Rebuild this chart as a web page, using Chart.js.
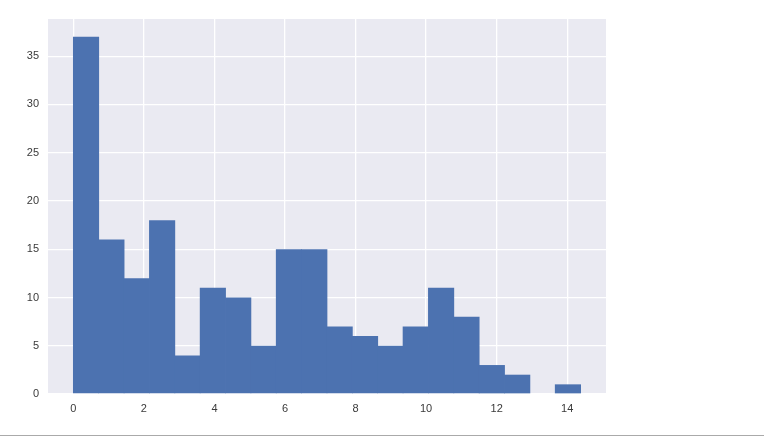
<!DOCTYPE html>
<html>
<head>
<meta charset="utf-8">
<script src="https://cdn.jsdelivr.net/npm/chart.js@4.4.0/dist/chart.umd.min.js"></script>
<style>
  body { margin: 0; background: #fff; }
  #wrap { position: relative; width: 764px; height: 439px; }
  #rule { position: absolute; left: 0; top: 435px; width: 764px; height: 1px; background: #aaaaaa; }
</style>
</head>
<body>
<div id="wrap">
  <canvas id="hist" width="764" height="439"></canvas>
  <div id="rule"></div>
</div>
<script>
// histogram data: bin edges and counts
const binEdges = [0, 0.719, 1.438, 2.157, 2.876, 3.595, 4.314, 5.033, 5.752, 6.471, 7.19,
                  7.909, 8.628, 9.347, 10.066, 10.785, 11.504, 12.223, 12.942, 13.661, 14.38];
const counts = [37, 16, 12, 18, 4, 11, 10, 5, 15, 15, 7, 6, 5, 7, 11, 8, 3, 2, 0, 1];
const xTicks = [0, 2, 4, 6, 8, 10, 12, 14];
const yTicks = [0, 5, 10, 15, 20, 25, 30, 35];

// points at bin centres
const points = counts.map((c, i) => ({ x: (binEdges[i] + binEdges[i + 1]) / 2, y: c }));

// grey plot background
const plotBg = {
    id: 'plotBg',
    beforeDraw(chart) {
        const a = chart.chartArea;
        const ctx = chart.ctx;
        ctx.save();
        ctx.fillStyle = '#EAEAF2';
        ctx.fillRect(a.left, a.top, a.right - a.left, a.bottom - a.top);
        ctx.restore();
    }
};

const tickFont = { family: 'Liberation Sans, Arial, sans-serif', size: 11 };

new Chart(document.getElementById('hist'), {
    type: 'bar',
    data: {
        datasets: [{
            data: points,
            backgroundColor: '#4C72B0',
            borderWidth: 0,
            barPercentage: 1.03,
            categoryPercentage: 1
        }]
    },
    options: {
        responsive: false,
        animation: false,
        layout: { padding: { left: 0, right: 158, top: 19, bottom: 0 } },
        plugins: { legend: { display: false }, tooltip: { enabled: false } },
        scales: {
            x: {
                type: 'linear',
                offset: false,
                min: -0.719,
                max: 15.1,
                afterFit(scale) { scale.height = 45; },
                afterBuildTicks(scale) { scale.ticks = xTicks.map(v => ({ value: v })); },
                grid: { color: '#ffffff', lineWidth: 1.3, drawTicks: false, offset: false },
                border: { display: false },
                ticks: { color: '#3a3a3a', font: tickFont, padding: 8 }
            },
            y: {
                min: 0,
                max: 38.85,
                afterFit(scale) { scale.width = 48; },
                afterBuildTicks(scale) { scale.ticks = yTicks.map(v => ({ value: v })); },
                grid: { color: '#ffffff', lineWidth: 1.3, drawTicks: false },
                border: { display: false },
                ticks: { color: '#3a3a3a', font: tickFont, padding: 9 }
            }
        }
    },
    plugins: [plotBg]
});
</script>
</body>
</html>
